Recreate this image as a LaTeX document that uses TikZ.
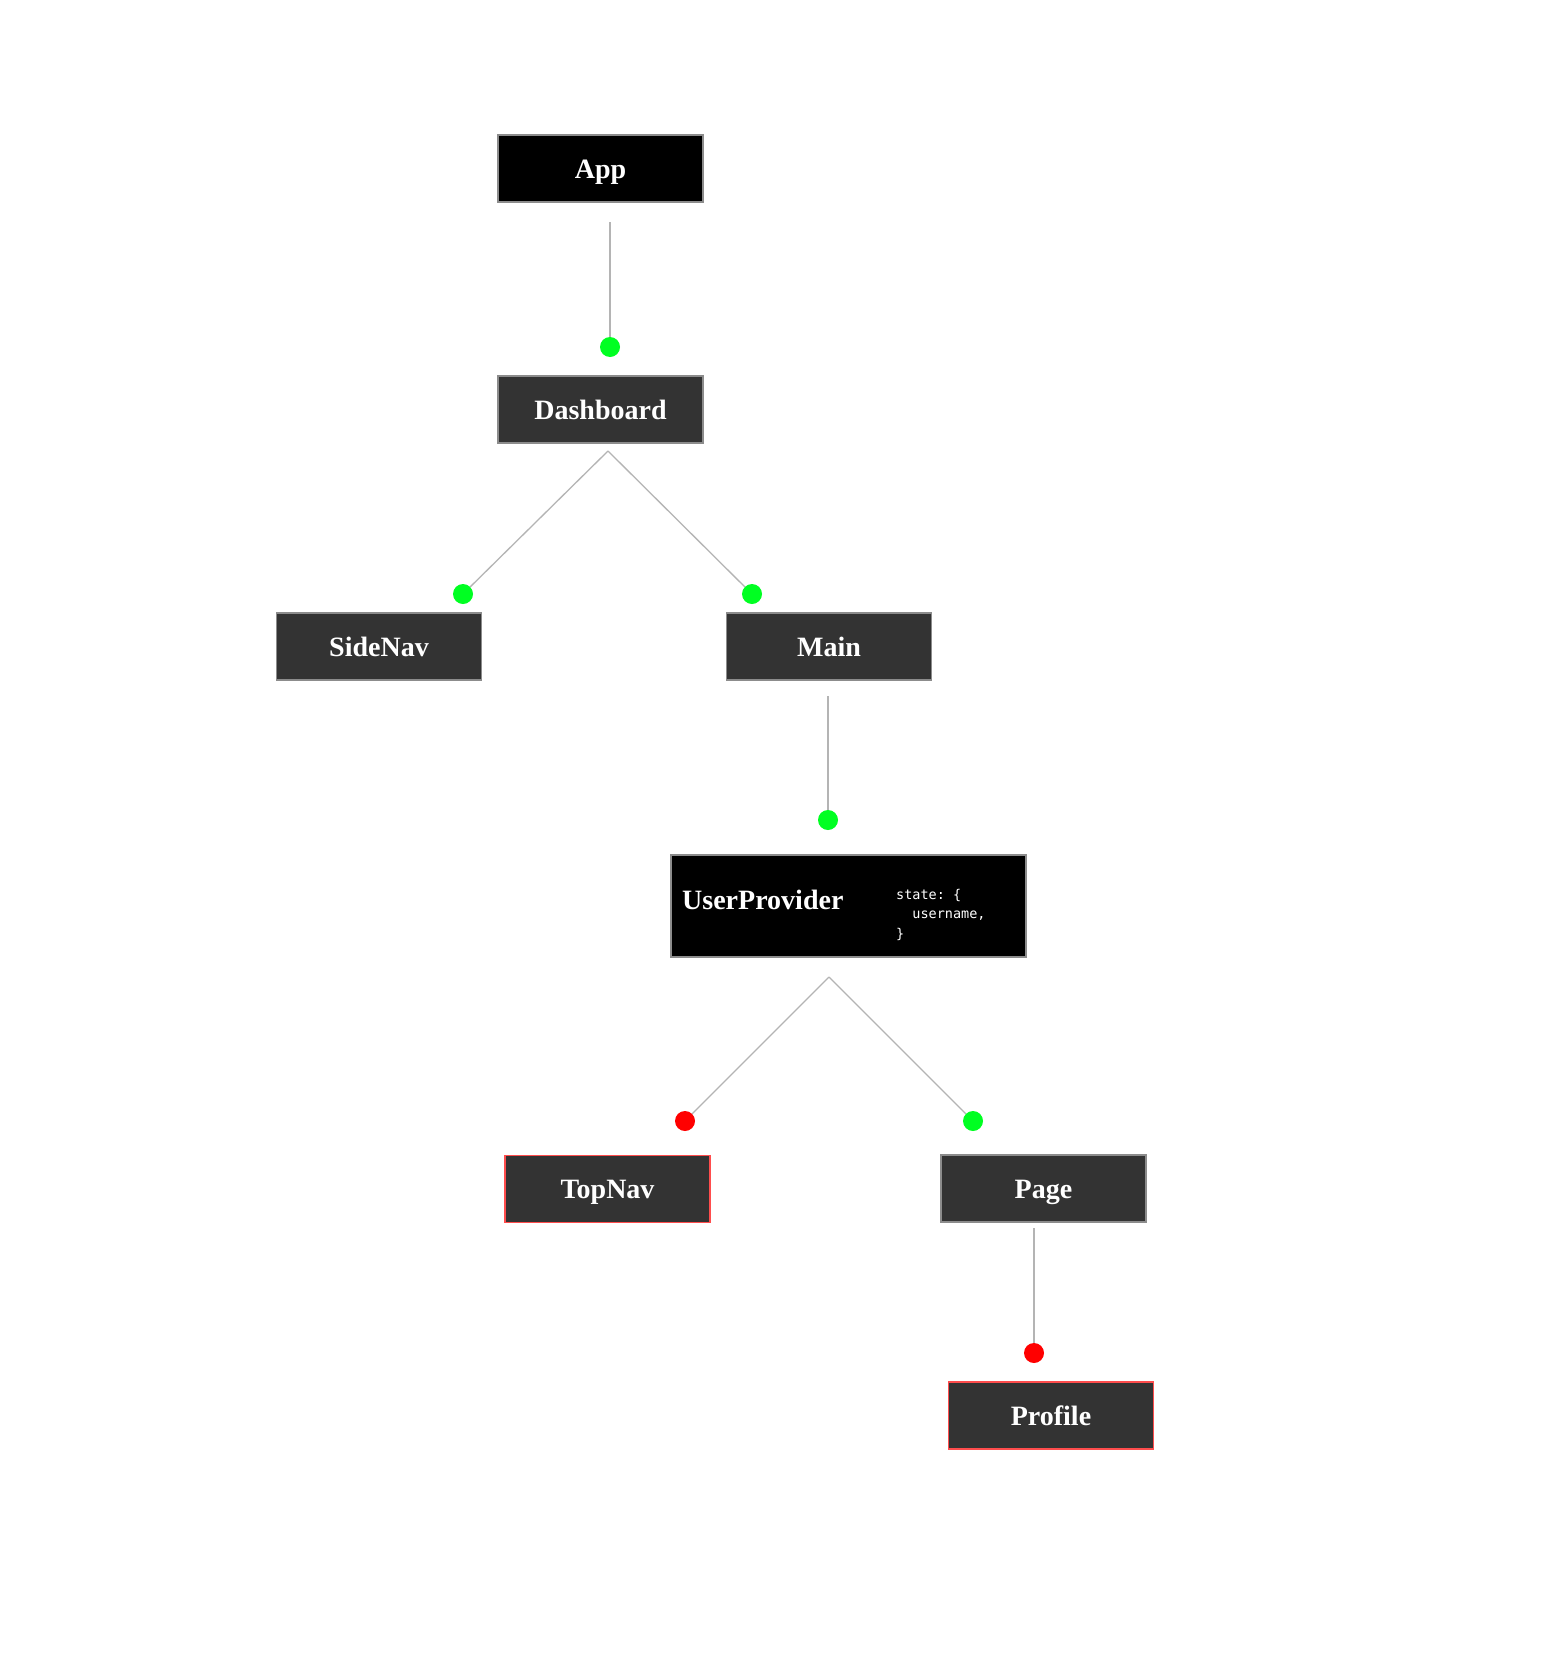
\documentclass[tikz,border=0pt]{standalone}
\usepackage{fontspec}
\setmainfont{Liberation Serif}
\setmonofont{DejaVu Sans Mono}
\usepackage{tikz}
\usetikzlibrary{shapes,calc}
\definecolor{boxfill}{HTML}{333333}
\definecolor{boxedge}{HTML}{8C8C8C}
\definecolor{warnedge}{HTML}{FF4D4D}
\definecolor{okdot}{HTML}{00FF22}
\definecolor{baddot}{HTML}{FF0000}
\definecolor{wire}{HTML}{B4B4B4}
\tikzstyle{line} = [draw=wire, line width=1.3pt]
\tikzstyle{block} = [draw=boxedge, fill=boxfill, rectangle, line width=1.5pt, text=white, text centered, minimum width=205pt, minimum height=67pt, inner sep=0pt, font=\fontsize{28}{34}\selectfont\bfseries, text height=19pt, text depth=0pt]
\tikzstyle{rootblock} = [block, fill=black]
\tikzstyle{badblock} = [block, draw=warnedge]
\tikzstyle{okdot} = [circle, fill=okdot, minimum size=20pt, inner sep=0pt]
\tikzstyle{baddot} = [circle, fill=baddot, minimum size=20pt, inner sep=0pt]
\tikzstyle{code} = [text=white, align=left, inner sep=0pt, font=\ttfamily\fontsize{13.5}{19.5}\selectfont]

\begin{document}
\begin{tikzpicture}[x=1pt, y=-1pt]
        \useasboundingbox[fill=white] (0,0) rectangle (1540,1654);
        \node[rootblock] (app) at (600.5,168.5) {App};
        \node[block] (dashboard) at (600.5,409.5) {Dashboard};
        \node[block] (sidenav) at (379,646.5) {SideNav};
        \node[block] (main) at (829,646.5) {Main};
        \node[rootblock, minimum width=355pt, minimum height=102pt] (userprovider) at (848.5,906) {};
        \node[text=white, anchor=base west, inner sep=0pt, font=\fontsize{28}{34}\selectfont\bfseries] (username) at (682,909) {UserProvider};
        \node[code, anchor=base west] (userstate) at (896,938) {state: \{\\\phantom{xx}username,\\\}};
        \node[badblock] (topnav) at (607.5,1189) {TopNav};
        \node[block] (page) at (1043.5,1188.5) {Page};
        \node[badblock] (profile) at (1051,1415.5) {Profile};
        \node[okdot] (dashboard-dot) at (610,347) {};
        \node[okdot] (sidenav-dot) at (463,594) {};
        \node[okdot] (main-dot) at (752,594) {};
        \node[okdot] (userprovider-dot) at (828,820) {};
        \node[baddot] (topnav-dot) at (685,1121) {};
        \node[okdot] (page-dot) at (973,1121) {};
        \node[baddot] (profile-dot) at (1034,1353) {};
        \coordinate (app-out) at (610,222);
        \coordinate (dashboard-fork) at (608,451);
        \coordinate (main-out) at (828,696);
        \coordinate (userprovider-fork) at (829,977);
        \coordinate (page-out) at (1034,1228);
        \path[line] (app-out) -- (dashboard-dot);
        \path[line] (dashboard-fork) -- (sidenav-dot);
        \path[line] (dashboard-fork) -- (main-dot);
        \path[line] (main-out) -- (userprovider-dot);
        \path[line] (userprovider-fork) -- (topnav-dot);
        \path[line] (userprovider-fork) -- (page-dot);
        \path[line] (page-out) -- (profile-dot);
    \end{tikzpicture}
\end{document}
